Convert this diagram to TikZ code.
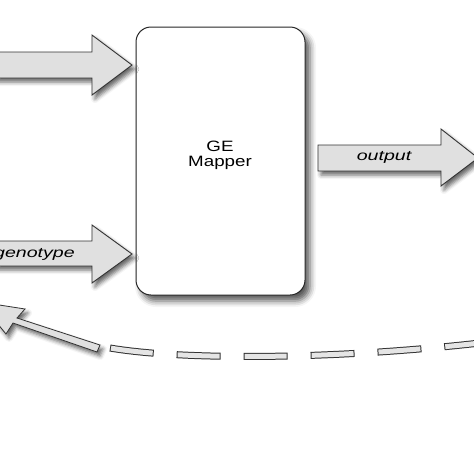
\documentclass[tikz,border=0pt]{standalone}
\usepackage{fontspec}
\setmainfont{Liberation Sans}
\usetikzlibrary{shadows.blur}
\begin{document}
\begin{tikzpicture}[x=1pt,y=-1pt,
  shad/.style={blur shadow={shadow xshift=3pt,shadow yshift=-4pt,shadow blur radius=4pt,shadow opacity=60}},
  blk/.style={draw=black!80,line width=0.9pt,fill=black!12,line join=miter,shad},
  mapbox/.style={draw=black!85,line width=1pt,fill=white,rounded corners=15pt,
    minimum width=169pt,minimum height=268pt,inner sep=0pt,
    blur shadow={shadow xshift=5pt,shadow yshift=-6pt,shadow blur radius=6pt,shadow opacity=65}},
  txt/.style={inner sep=0pt,font=\fontsize{15}{15.5}\selectfont},
  lbl/.style={inner sep=0pt,font=\fontsize{14}{15}\selectfont\itshape}]
\useasboundingbox (0,0) rectangle (474,474);
\clip (0,0) rectangle (474,474);
% mapper box
\node[mapbox] (map) at (220.5,161) {};
\node[txt] (maptxt) at (220,156) {\scalebox{1.25}[1]{\begin{tabular}{@{}c@{}}GE\\Mapper\end{tabular}}};
% input arrows
\path[blk] (-5,52) -- (92,52) -- (92,35) -- (132,65) -- (92,95) -- (92,78) -- (-5,78) -- cycle;
\path[blk] (-5,241) -- (92,241) -- (92,225) -- (132,254) -- (92,283) -- (92,266) -- (-5,266) -- cycle;
\node[lbl,anchor=east] (geno) at (75,254) {\scalebox{1.4}[1]{genotype}};
% output arrow
\path[blk] (318,145) -- (441,145) -- (441,129) -- (478,158) -- (441,186) -- (441,171) -- (318,171) -- cycle;
\node[lbl] (out) at (384,157) {\scalebox{1.4}[1]{output}};
% feedback dashed arrow
\coordinate (fbA) at (110,348);
\coordinate (fbB) at (480,343);
\draw[black!80,line width=7pt,dash pattern=on 44pt off 23pt] (fbA) .. controls (180,360) and (330,360) .. (fbB);
\draw[black!10,line width=5pt,dash pattern=on 42pt off 25pt,dash phase=66pt] (fbA) .. controls (180,360) and (330,360) .. (fbB);
\path[blk,line width=0.8pt] (97,352) -- (13,323) -- (6,334) -- (-20,302) -- (25,309) -- (17,318) -- (100,345) -- cycle;
\end{tikzpicture}
\end{document}
